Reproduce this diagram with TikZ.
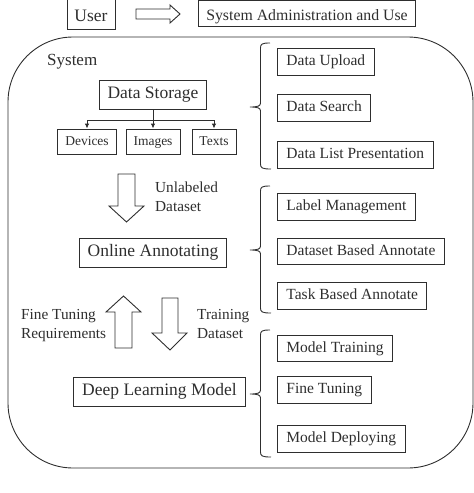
\documentclass[tikz,border=0pt]{standalone}
\usepackage{fontspec}
\setmainfont{Liberation Serif}
\usetikzlibrary{arrows.meta}
\definecolor{ink}{gray}{0.18}
\tikzset{
  box/.style={draw=ink, text=ink, line width=0.9pt, inner ysep=0pt, text height=0.76em, text depth=0pt},
  mainbox/.style={box, font=\fontsize{17.5}{20}\selectfont, inner xsep=8.5pt, minimum height=29pt},
  smallbox/.style={box, font=\fontsize{13.5}{16}\selectfont, inner xsep=7.5pt, minimum height=25pt},
  itembox/.style={box, font=\fontsize{15.5}{18}\selectfont, inner xsep=9pt, minimum height=26.5pt, anchor=west},
  lbl/.style={text=ink, inner sep=0pt, align=left, font=\fontsize{15.3}{18.6}\selectfont, anchor=north west},
  hollow/.style={draw=ink, fill=white, line width=0.9pt, line join=miter},
  bracepath/.style={draw=ink, line width=0.9pt},
  tree/.style={draw=ink, line width=0.9pt, -{Latex[length=5pt,width=4.5pt]}}
}
\begin{document}
\begin{tikzpicture}[x=1pt,y=-1pt]
\useasboundingbox (0,0) rectangle (474,493);

% top row
\node[box, font=\fontsize{17.5}{20}\selectfont, inner xsep=7.5pt, text height=26pt, text depth=8pt, anchor=base] (user) at (91,21) {User};
\node[box, font=\fontsize{15.8}{18}\selectfont, inner xsep=7.5pt, text height=20pt, text depth=6.5pt, anchor=base] (admin) at (307,20.3) {System Administration and Use};
\path[hollow] (136,9) -- (170,9) -- (170,5) -- (180,14) -- (170,23) -- (170,19) -- (136,19) -- cycle;

% system frame
\draw[draw=ink, line width=0.9pt, rounded corners=65pt] (8,37) rectangle (473,468);
\node[text=ink, inner sep=0pt, anchor=base west, font=\fontsize{17}{20}\selectfont] (sys) at (47,65) {System};

% left column
\node[mainbox] (ds) at (153,95) {Data Storage};
\node[smallbox] (dev) at (87,141.5) {Devices};
\node[smallbox] (img) at (153,141.5) {Images};
\node[smallbox] (txt) at (214,141.5) {Texts};
\draw[tree] (ds.south) -- (img.north);
\draw[tree] (ds.south) -- ++(0,10) -| (dev.north);
\draw[tree] (ds.south) -- ++(0,10) -| (txt.north);

\path[hollow] (118,174) -- (135,174) -- (135,206) -- (144,206) -- (126.5,222) -- (109,206) -- (118,206) -- cycle;
\node[lbl] (unl) at (155,181.6) {Unlabeled\\Dataset};

\node[mainbox] (oa) at (153,252.5) {Online Annotating};

\path[hollow] (115,348) -- (115,312) -- (106,312) -- (123.5,296) -- (141,312) -- (132,312) -- (132,348) -- cycle;
\path[hollow] (162,298) -- (178,298) -- (178,333) -- (187,333) -- (170,350) -- (152,333) -- (162,333) -- cycle;
\node[lbl] (ftr) at (21,309.6) {Fine Tuning\\Requirements};
\node[lbl] (trd) at (197,309.6) {Training\\Dataset};

\node[mainbox] (dlm) at (159.5,391.5) {Deep Learning Model};

% braces
\foreach \t/\m/\b in {43/107/169, 186/250/313, 330/394/457}{
  \path[bracepath] (270,\t) .. controls (262,\t) and (260.5,\t+1) .. (260.5,\t+5)
     -- (260.5,\m-4) .. controls (260.5,\m-1) and (258,\m) .. (250,\m)
     .. controls (258,\m) and (260.5,\m+1) .. (260.5,\m+4)
     -- (260.5,\b-5) .. controls (260.5,\b-1) and (262,\b) .. (271,\b);
}

% right column
\node[itembox] (up) at (277,62) {Data Upload};
\node[itembox] (se) at (277,108) {Data Search};
\node[itembox] (dl) at (277,155) {Data List Presentation};
\node[itembox] (lm) at (277,207) {Label Management};
\node[itembox] (dba) at (277,251.5) {Dataset Based Annotate};
\node[itembox] (tba) at (277,296) {Task Based Annotate};
\node[itembox] (mt) at (277,348.5) {Model Training};
\node[itembox] (ft) at (277,390) {Fine Tuning};
\node[itembox] (md) at (277,439) {Model Deploying};
\end{tikzpicture}
\end{document}
